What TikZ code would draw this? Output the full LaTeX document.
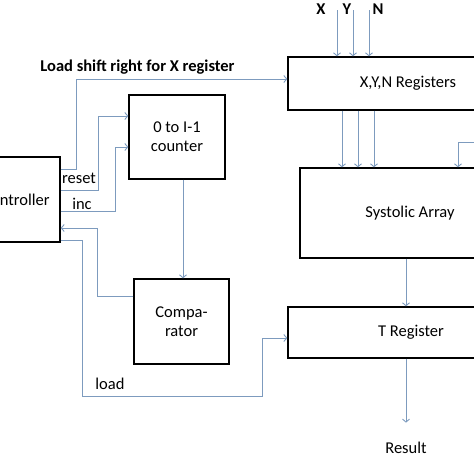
\documentclass[tikz,border=0pt]{standalone}
\usepackage{fontspec}
\setmainfont{Carlito}
\usetikzlibrary{arrows.meta}
\definecolor{wireblue}{RGB}{125,155,190}
\tikzset{
    block/.style={draw=black, line width=1.3pt, align=center, inner sep=2pt, text centered},
    wire/.style={draw=wireblue, line width=0.9pt, -{Straight Barb[length=3pt,width=7pt]}},
    lbl/.style={inner sep=1pt}
}

\begin{document}
\begin{tikzpicture}[x=1pt, y=-1pt, font=\fontsize{16.5}{19}\selectfont]
\useasboundingbox (0,0) rectangle (474,474);
\clip (0,0) rectangle (474,474);

% blocks
\node[block, minimum width=88pt, minimum height=85pt] (ctrl) at (16,199.5) {Controller};
\node[block, minimum width=96pt, minimum height=84pt] (cnt) at (177,137) {0 to I-1\\counter};
\node[block, minimum width=95pt, minimum height=85pt] (comp) at (181.5,321.5) {Compa-\\rator};
\node[block, minimum width=240pt, minimum height=53pt] (xyn) at (408,83.5) {X,Y,N Registers};
\node[block, minimum width=220pt, minimum height=90pt] (sys) at (410,213) {Systolic Array};
\node[block, minimum width=246pt, minimum height=51pt] (treg) at (411,332.5) {T Register};
\node[lbl] (res) at (406,448) {Result};

% labels
\node[lbl, font=\fontsize{16.5}{19}\selectfont\bfseries] (lshift) at (137.5,67) {Load shift right for X register};
\node[lbl] (lreset) at (79,178) {reset};
\node[lbl] (linc) at (82,204) {inc};
\node[lbl] (lload) at (110,384) {load};

% controller signals
\draw[wire] ([yshift=30.5pt]ctrl.east) -- ++(16,0) |- ([yshift=4.5pt]xyn.west);
\draw[wire] ([yshift=9.5pt]ctrl.east) -- ++(38,0) |- ([yshift=21pt]cnt.west);
\draw[wire] ([yshift=-11.5pt]ctrl.east) -- ++(55,0) |- ([yshift=-10pt]cnt.west);
\draw[wire] ([yshift=25.5pt]comp.west) -- ++(-36,0) |- ([yshift=-28.5pt]ctrl.east);
\draw[wire] ([yshift=-40.5pt]ctrl.east) -| (82,396) -| (262,338) -- ([yshift=-5.5pt]treg.west);
\draw[wire] ([xshift=6pt]cnt.south) -- ([xshift=6pt]cnt.south |- comp.north);

% register inputs and outputs
\foreach \x/\name/\lx in {337/X/321, 353/Y/347, 369/N/378} {
    \node[lbl, font=\fontsize{16.5}{19}\selectfont\bfseries] (in\name) at (\lx,9) {\name};
    \draw[wire] (\x,10) -- (xyn.north -| \x,0);
}
\foreach \x in {342,358,374}
    \draw[wire] (xyn.south -| \x,0) -- (sys.north -| \x,0);

\coordinate (fb) at (480,142);
\draw[wire] (fb) -| (sys.north -| 458,0);
\draw[wire] (sys.south -| 406,0) -- (treg.north -| 406,0);
\draw[wire] (treg.south -| 406,0) -- ++(0,64);

\end{tikzpicture}
\end{document}
